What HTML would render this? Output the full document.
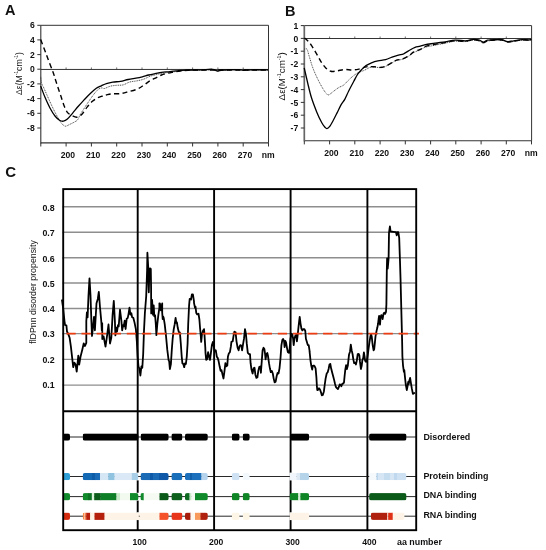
<!DOCTYPE html>
<html><head><meta charset="utf-8"><title>Figure</title>
<style>
html,body{margin:0;padding:0;background:#fff;}
svg{display:block;filter:blur(0.35px);}
text{font-family:"Liberation Sans", sans-serif;fill:#111;}
.b{font-weight:bold;}
</style></head><body>
<svg width="546" height="550" viewBox="0 0 546 550">
<rect width="546" height="550" fill="#fff"/>

<text x="5" y="15.4" class="b" font-size="14.5">A</text>
<g stroke="#333" stroke-width="1" fill="none">
<path d="M40.8 25.3H268.5V142.9"/>
<path d="M40.8 142.9H268.5" stroke="#333" stroke-width="1.1"/>
<path d="M40.8 25.3V143.4" stroke="#333" stroke-width="1.1"/>
<path d="M40.8 69.45H268.5" stroke="#333" stroke-width="1"/>
<path d="M37.3 25.3H40.8"/>
<path d="M37.3 39.9H40.8"/>
<path d="M37.3 54.6H40.8"/>
<path d="M37.3 69.2H40.8"/>
<path d="M37.3 83.9H40.8"/>
<path d="M37.3 98.6H40.8"/>
<path d="M37.3 113.3H40.8"/>
<path d="M37.3 128.0H40.8"/>
<path d="M40.8 142.9V146.5"/>
<path d="M66.1 142.9V146.5"/>
<path d="M66.1 69.45V67.45" stroke-width="0.7"/>
<path d="M91.4 142.9V146.5"/>
<path d="M91.4 69.45V67.45" stroke-width="0.7"/>
<path d="M116.7 142.9V146.5"/>
<path d="M116.7 69.45V67.45" stroke-width="0.7"/>
<path d="M142.0 142.9V146.5"/>
<path d="M142.0 69.45V67.45" stroke-width="0.7"/>
<path d="M167.3 142.9V146.5"/>
<path d="M167.3 69.45V67.45" stroke-width="0.7"/>
<path d="M192.6 142.9V146.5"/>
<path d="M192.6 69.45V67.45" stroke-width="0.7"/>
<path d="M217.9 142.9V146.5"/>
<path d="M217.9 69.45V67.45" stroke-width="0.7"/>
<path d="M243.2 142.9V146.5"/>
<path d="M243.2 69.45V67.45" stroke-width="0.7"/>
<path d="M268.5 142.9V146.5"/>
</g>
<text x="34.699999999999996" y="28.4" class="b" font-size="8.6" text-anchor="end">6</text>
<text x="34.699999999999996" y="43.0" class="b" font-size="8.6" text-anchor="end">4</text>
<text x="34.699999999999996" y="57.7" class="b" font-size="8.6" text-anchor="end">2</text>
<text x="34.699999999999996" y="72.3" class="b" font-size="8.6" text-anchor="end">0</text>
<text x="34.699999999999996" y="87.0" class="b" font-size="8.6" text-anchor="end">-2</text>
<text x="34.699999999999996" y="101.7" class="b" font-size="8.6" text-anchor="end">-4</text>
<text x="34.699999999999996" y="116.4" class="b" font-size="8.6" text-anchor="end">-6</text>
<text x="34.699999999999996" y="131.1" class="b" font-size="8.6" text-anchor="end">-8</text>
<text x="67.9" y="157.70000000000002" class="b" font-size="8.6" text-anchor="middle">200</text>
<text x="93.2" y="157.70000000000002" class="b" font-size="8.6" text-anchor="middle">210</text>
<text x="118.5" y="157.70000000000002" class="b" font-size="8.6" text-anchor="middle">220</text>
<text x="143.8" y="157.70000000000002" class="b" font-size="8.6" text-anchor="middle">230</text>
<text x="169.1" y="157.70000000000002" class="b" font-size="8.6" text-anchor="middle">240</text>
<text x="194.4" y="157.70000000000002" class="b" font-size="8.6" text-anchor="middle">250</text>
<text x="219.7" y="157.70000000000002" class="b" font-size="8.6" text-anchor="middle">260</text>
<text x="245.0" y="157.70000000000002" class="b" font-size="8.6" text-anchor="middle">270</text>
<text x="268.1" y="157.70000000000002" class="b" font-size="8.6" text-anchor="middle">nm</text>
<text transform="translate(21.7 95) rotate(-90)" font-size="8.7" fill="#6e6e6e">Δε(M<tspan dy="-3.5" font-size="4.8">-1</tspan><tspan dy="3.5">cm</tspan><tspan dy="-3.5" font-size="4.8">-1</tspan><tspan dy="3.5">)</tspan></text>
<text x="285" y="16.3" class="b" font-size="14.5">B</text>
<g stroke="#333" stroke-width="1" fill="none">
<path d="M304.3 25.6H531.6V140.8"/>
<path d="M304.3 140.8H531.6" stroke="#333" stroke-width="1.1"/>
<path d="M304.3 25.6V141.3" stroke="#666" stroke-width="1.7"/>
<path d="M304.3 38.5H531.6" stroke="#333" stroke-width="1"/>
<path d="M300.8 25.6H304.3"/>
<path d="M300.8 38.4H304.3"/>
<path d="M300.8 51.2H304.3"/>
<path d="M300.8 64.0H304.3"/>
<path d="M300.8 76.8H304.3"/>
<path d="M300.8 89.6H304.3"/>
<path d="M300.8 102.4H304.3"/>
<path d="M300.8 115.2H304.3"/>
<path d="M300.8 128.0H304.3"/>
<path d="M304.3 140.8V144.4"/>
<path d="M329.6 140.8V144.4"/>
<path d="M329.6 38.5V36.5" stroke-width="0.7"/>
<path d="M354.8 140.8V144.4"/>
<path d="M354.8 38.5V36.5" stroke-width="0.7"/>
<path d="M380.1 140.8V144.4"/>
<path d="M380.1 38.5V36.5" stroke-width="0.7"/>
<path d="M405.3 140.8V144.4"/>
<path d="M405.3 38.5V36.5" stroke-width="0.7"/>
<path d="M430.6 140.8V144.4"/>
<path d="M430.6 38.5V36.5" stroke-width="0.7"/>
<path d="M455.8 140.8V144.4"/>
<path d="M455.8 38.5V36.5" stroke-width="0.7"/>
<path d="M481.1 140.8V144.4"/>
<path d="M481.1 38.5V36.5" stroke-width="0.7"/>
<path d="M506.3 140.8V144.4"/>
<path d="M506.3 38.5V36.5" stroke-width="0.7"/>
<path d="M531.5 140.8V144.4"/>
</g>
<text x="298.2" y="28.7" class="b" font-size="8.6" text-anchor="end">1</text>
<text x="298.2" y="41.5" class="b" font-size="8.6" text-anchor="end">0</text>
<text x="298.2" y="54.3" class="b" font-size="8.6" text-anchor="end">-1</text>
<text x="298.2" y="67.1" class="b" font-size="8.6" text-anchor="end">-2</text>
<text x="298.2" y="79.9" class="b" font-size="8.6" text-anchor="end">-3</text>
<text x="298.2" y="92.7" class="b" font-size="8.6" text-anchor="end">-4</text>
<text x="298.2" y="105.5" class="b" font-size="8.6" text-anchor="end">-5</text>
<text x="298.2" y="118.3" class="b" font-size="8.6" text-anchor="end">-6</text>
<text x="298.2" y="131.1" class="b" font-size="8.6" text-anchor="end">-7</text>
<text x="331.4" y="155.60000000000002" class="b" font-size="8.6" text-anchor="middle">200</text>
<text x="356.6" y="155.60000000000002" class="b" font-size="8.6" text-anchor="middle">210</text>
<text x="381.9" y="155.60000000000002" class="b" font-size="8.6" text-anchor="middle">220</text>
<text x="407.1" y="155.60000000000002" class="b" font-size="8.6" text-anchor="middle">230</text>
<text x="432.4" y="155.60000000000002" class="b" font-size="8.6" text-anchor="middle">240</text>
<text x="457.6" y="155.60000000000002" class="b" font-size="8.6" text-anchor="middle">250</text>
<text x="482.9" y="155.60000000000002" class="b" font-size="8.6" text-anchor="middle">260</text>
<text x="508.1" y="155.60000000000002" class="b" font-size="8.6" text-anchor="middle">270</text>
<text x="531.2" y="155.60000000000002" class="b" font-size="8.6" text-anchor="middle">nm</text>
<text transform="translate(284.9 100.4) rotate(-90)" font-size="9.8" fill="#6e6e6e">Δε(M<tspan dy="-3.9" font-size="5.4">-1</tspan><tspan dy="3.9">cm</tspan><tspan dy="-3.9" font-size="5.4">-1</tspan><tspan dy="3.9">)</tspan></text>
<text x="5.2" y="177.2" class="b" font-size="15">C</text>
<path d="M62.400000000000006 206.7H416.2" stroke="#8e8e8e" stroke-width="1.4"/>
<text x="54.7" y="210.7" class="b" font-size="8.8" text-anchor="end">0.8</text>
<path d="M62.400000000000006 232.2H416.2" stroke="#8e8e8e" stroke-width="1.4"/>
<text x="54.7" y="236.2" class="b" font-size="8.8" text-anchor="end">0.7</text>
<path d="M62.400000000000006 257.8H416.2" stroke="#8e8e8e" stroke-width="1.4"/>
<text x="54.7" y="261.8" class="b" font-size="8.8" text-anchor="end">0.6</text>
<path d="M62.400000000000006 283.0H416.2" stroke="#8e8e8e" stroke-width="1.4"/>
<text x="54.7" y="287.0" class="b" font-size="8.8" text-anchor="end">0.5</text>
<path d="M62.400000000000006 308.5H416.2" stroke="#8e8e8e" stroke-width="1.4"/>
<text x="54.7" y="312.1" class="b" font-size="8.8" text-anchor="end">0.4</text>
<path d="M62.400000000000006 333.6H416.2" stroke="#8e8e8e" stroke-width="1.4"/>
<text x="54.7" y="336.6" class="b" font-size="8.8" text-anchor="end">0.3</text>
<path d="M62.400000000000006 359.4H416.2" stroke="#8e8e8e" stroke-width="1.4"/>
<text x="54.7" y="362.8" class="b" font-size="8.8" text-anchor="end">0.2</text>
<path d="M62.400000000000006 385.1H416.2" stroke="#8e8e8e" stroke-width="1.4"/>
<text x="54.7" y="388.1" class="b" font-size="8.8" text-anchor="end">0.1</text>
<text transform="translate(35.8 343.8) rotate(-90)" font-size="8.8" fill="#555">flDPnn disorder propensity</text>
<text x="139.7" y="544.8" class="b" font-size="8.6" text-anchor="middle">100</text>
<text x="216.1" y="544.8" class="b" font-size="8.6" text-anchor="middle">200</text>
<text x="292.6" y="544.8" class="b" font-size="8.6" text-anchor="middle">300</text>
<text x="369.4" y="544.8" class="b" font-size="8.6" text-anchor="middle">400</text>
<text x="397" y="544.8" class="b" font-size="8.9">aa number</text>
<text x="423.4" y="439.9" class="b" font-size="8.9">Disordered</text>
<text x="423.4" y="478.8" class="b" font-size="8.9">Protein binding</text>
<text x="423.4" y="497.6" class="b" font-size="8.9">DNA binding</text>
<text x="423.4" y="518.4" class="b" font-size="8.9">RNA binding</text>
<g fill="none" stroke-linejoin="round">
<path d="M40.7 76.8C40.9 78.0 41.3 82.0 41.8 83.8C42.3 85.6 42.5 85.1 43.7 87.7C44.9 90.3 47.1 95.5 48.8 99.2C50.5 102.9 52.2 106.7 53.9 110.1C55.6 113.5 57.7 117.3 59.1 119.7C60.5 122.1 61.2 123.1 62.3 124.2C63.4 125.3 64.3 126.1 65.5 126.2C66.7 126.3 67.8 125.3 69.3 124.6C70.8 123.9 73.1 122.8 74.5 122.0C75.9 121.2 76.8 120.9 77.7 119.7C78.7 118.5 79.0 116.6 80.2 114.6C81.4 112.6 83.1 110.0 84.7 107.6C86.3 105.1 88.1 102.4 89.8 99.9C91.5 97.4 93.5 94.6 95.0 92.8C96.5 91.0 97.6 89.8 98.8 89.0C100.0 88.2 101.0 88.0 102.0 87.9C103.0 87.8 103.1 88.8 104.5 88.5C105.9 88.2 108.3 86.7 110.3 86.2C112.3 85.7 114.6 85.5 116.7 85.3C118.8 85.1 121.0 85.4 123.1 84.9C125.2 84.4 127.2 82.8 129.5 82.1C131.8 81.4 134.8 81.3 137.2 80.8C139.5 80.3 141.5 80.0 143.6 79.2C145.7 78.5 147.9 77.1 150.0 76.3C152.1 75.5 154.3 75.1 156.4 74.6C158.5 74.1 160.5 73.5 162.8 73.1C165.1 72.7 167.5 72.7 170.0 72.4C172.5 72.1 175.3 71.5 178.0 71.2C180.7 70.9 182.3 70.6 186.0 70.4C189.7 70.2 195.7 70.3 200.0 70.2C204.3 70.1 209.0 69.6 212.0 69.8C215.0 70.0 216.0 71.1 218.0 71.2C220.0 71.3 215.7 70.4 224.0 70.2C232.3 70.0 260.7 70.0 268.0 70.0" stroke="#333" stroke-width="0.9" stroke-dasharray="1 0.8"/>
<path d="M40.7 39.6C41.7 42.3 44.8 50.3 46.8 55.7C48.8 61.1 51.4 67.7 52.9 71.8C54.4 75.9 54.8 77.7 55.7 80.5C56.6 83.3 57.5 86.0 58.4 88.8C59.3 91.5 60.3 94.2 61.2 97.0C62.1 99.8 63.1 103.2 63.9 105.3C64.7 107.4 65.2 108.2 65.8 109.4C66.4 110.6 66.7 111.6 67.6 112.6C68.5 113.6 69.7 114.4 71.3 115.2C72.9 116.0 75.2 117.4 77.0 117.2C78.8 117.0 80.5 115.7 82.2 114.0C83.9 112.3 85.6 109.0 87.3 106.9C89.0 104.8 90.7 102.7 92.4 101.2C94.1 99.7 95.8 98.8 97.5 97.9C99.2 97.0 101.3 96.5 102.7 96.0C104.1 95.5 104.5 95.3 106.0 95.0C107.5 94.7 109.1 94.1 111.5 93.9C113.9 93.7 117.7 94.0 120.5 93.6C123.3 93.2 125.4 92.5 128.2 91.7C131.0 91.0 134.6 90.2 137.2 89.1C139.8 88.0 141.5 86.7 143.6 85.3C145.7 83.9 147.9 82.1 150.0 80.8C152.1 79.5 154.5 78.6 156.4 77.6C158.3 76.6 159.8 75.7 161.5 75.0C163.2 74.3 164.9 73.9 166.7 73.5C168.4 73.1 169.8 72.8 172.0 72.4C174.2 72.0 177.3 71.3 180.0 71.0C182.7 70.7 184.7 70.5 188.0 70.3C191.3 70.1 186.7 70.1 200.0 70.1C213.3 70.0 256.7 70.0 268.0 70.0" stroke="#000" stroke-width="1.4" stroke-dasharray="5 3.4"/>
<path d="M40.7 86.0C41.4 87.9 43.4 93.6 45.0 97.3C46.6 101.0 48.4 105.1 50.1 108.2C51.8 111.3 53.4 114.0 55.0 116.0C56.6 118.0 58.1 119.3 59.5 120.2C60.9 121.1 62.1 121.4 63.4 121.2C64.7 121.0 65.9 120.4 67.4 119.1C68.9 117.8 70.7 115.4 72.5 113.3C74.3 111.2 76.3 108.6 78.3 106.3C80.3 104.0 82.6 101.5 84.7 99.2C86.8 97.0 89.2 94.6 91.1 92.8C93.0 91.0 94.6 89.5 96.3 88.3C98.0 87.1 99.7 86.6 101.4 85.8C103.1 85.0 104.5 84.2 106.4 83.6C108.3 83.0 110.5 82.5 112.8 82.1C115.1 81.7 117.9 81.8 120.5 81.4C123.1 81.0 125.6 80.0 128.2 79.5C130.8 79.0 133.6 78.6 135.9 78.2C138.2 77.8 140.2 77.4 142.3 76.9C144.4 76.4 146.6 75.5 148.7 75.0C150.8 74.5 153.0 74.1 155.1 73.7C157.2 73.3 159.0 72.8 161.5 72.4C164.0 72.1 167.2 71.9 170.0 71.6C172.8 71.3 175.3 70.8 178.0 70.6C180.7 70.3 182.3 70.2 186.0 70.1C189.7 70.0 195.6 70.0 200.0 69.9C204.4 69.8 209.4 69.1 212.4 69.3C215.4 69.5 216.0 70.9 217.8 71.0C219.6 71.1 219.3 70.2 223.0 70.0C226.7 69.8 236.7 69.7 240.0 69.8C243.3 69.9 241.3 70.4 243.0 70.4C244.7 70.4 245.8 69.9 250.0 69.8C254.2 69.7 265.0 69.8 268.0 69.8" stroke="#000" stroke-width="1.3"/>
<path d="M304.2 49.2C304.7 49.2 306.2 48.1 307.0 49.2C307.8 50.3 308.0 52.5 309.0 55.6C310.0 58.7 311.3 63.8 312.8 67.8C314.3 71.8 316.2 75.9 317.9 79.4C319.6 82.9 321.7 86.7 323.1 89.0C324.5 91.3 325.4 92.5 326.3 93.5C327.2 94.5 327.4 95.2 328.6 94.9C329.8 94.6 331.7 92.7 333.3 91.5C334.9 90.3 336.8 88.8 338.5 87.7C340.2 86.6 341.9 86.4 343.6 85.1C345.3 83.8 347.0 81.6 348.7 80.0C350.4 78.4 352.1 76.8 353.8 75.5C355.5 74.2 357.3 73.1 359.0 72.3C360.7 71.5 362.3 71.2 364.1 70.4C365.9 69.6 368.3 68.0 370.0 67.4C371.7 66.8 372.1 67.0 374.1 67.0C376.1 67.0 379.2 68.0 381.8 67.6C384.4 67.2 387.1 65.6 389.5 64.4C391.9 63.2 393.8 61.5 395.9 60.6C398.0 59.8 400.2 60.0 402.3 59.3C404.4 58.5 406.8 57.2 408.7 56.1C410.6 55.0 411.9 53.4 413.8 52.4C415.7 51.4 418.4 50.8 420.3 49.9C422.2 49.0 422.9 48.0 425.4 47.2C427.8 46.4 431.7 45.9 435.0 45.2C438.3 44.5 441.7 43.9 445.0 43.2C448.3 42.5 451.7 41.5 455.0 41.2C458.3 40.9 462.0 41.8 465.0 41.6C468.0 41.4 470.7 40.3 473.0 40.2C475.3 40.1 477.2 40.5 479.0 41.0C480.8 41.5 482.0 43.0 483.5 43.0C485.0 43.0 485.9 41.5 488.0 41.0C490.1 40.5 493.7 40.3 496.0 40.2C498.3 40.1 500.0 40.1 502.0 40.4C504.0 40.7 506.0 42.0 508.0 42.2C510.0 42.4 511.7 41.7 514.0 41.4C516.3 41.1 519.1 40.4 522.0 40.2C524.9 40.0 529.9 40.2 531.5 40.2" stroke="#333" stroke-width="0.9" stroke-dasharray="1 0.8"/>
<path d="M304.5 37.9C305.4 38.7 307.8 40.5 309.6 42.8C311.4 45.1 313.6 48.8 315.4 51.8C317.2 54.8 318.8 58.1 320.5 60.8C322.2 63.5 323.9 66.0 325.6 67.8C327.3 69.5 328.9 70.8 330.8 71.3C332.7 71.8 334.9 71.1 337.2 70.8C339.5 70.5 342.3 69.6 344.9 69.5C347.5 69.4 350.2 70.1 352.6 70.0C355.0 69.9 357.1 69.5 359.0 69.1C360.9 68.7 362.6 67.8 364.1 67.4C365.6 67.0 366.3 66.7 368.0 66.6C369.7 66.5 371.8 66.6 374.1 66.7C376.4 66.8 379.2 67.7 381.8 67.3C384.4 66.9 387.1 65.3 389.5 64.1C391.9 62.9 393.8 61.1 395.9 60.3C398.0 59.4 400.2 59.8 402.3 59.0C404.4 58.2 406.8 57.0 408.7 55.8C410.6 54.6 411.9 53.0 413.8 51.9C415.7 50.8 418.4 50.3 420.3 49.4C422.2 48.5 422.9 47.2 425.4 46.4C427.8 45.6 431.7 45.0 435.0 44.4C438.3 43.8 441.7 43.2 445.0 42.6C448.3 42.0 451.7 41.0 455.0 40.8C458.3 40.6 462.0 41.4 465.0 41.2C468.0 41.0 470.7 39.9 473.0 39.8C475.3 39.7 477.2 40.1 479.0 40.6C480.8 41.1 482.0 42.6 483.5 42.6C485.0 42.6 485.9 41.1 488.0 40.6C490.1 40.1 493.7 40.0 496.0 39.9C498.3 39.8 500.0 39.7 502.0 40.0C504.0 40.3 506.0 41.7 508.0 41.9C510.0 42.1 511.7 41.4 514.0 41.1C516.3 40.8 519.1 40.1 522.0 39.9C524.9 39.7 529.9 39.9 531.5 39.9" stroke="#000" stroke-width="1.4" stroke-dasharray="5 3.4"/>
<path d="M304.2 67.8C304.8 70.3 306.5 78.0 307.7 83.0C308.9 88.0 310.0 93.0 311.5 97.8C313.0 102.6 315.0 107.7 316.7 111.9C318.4 116.1 320.4 120.2 321.8 122.8C323.2 125.4 324.1 126.3 325.0 127.3C325.9 128.3 326.1 128.7 326.9 128.6C327.6 128.5 328.4 128.1 329.5 126.7C330.6 125.3 332.0 122.7 333.3 120.3C334.6 117.9 335.9 115.2 337.2 112.6C338.5 110.0 339.7 107.2 341.0 104.9C342.3 102.7 343.6 101.4 344.9 99.1C346.2 96.8 347.2 94.0 348.7 91.0C350.2 88.0 352.3 84.1 353.8 81.3C355.3 78.5 356.4 76.1 357.7 74.2C359.0 72.3 360.1 71.1 361.5 69.7C362.9 68.3 364.3 66.8 366.0 65.6C367.7 64.4 369.5 63.6 371.5 62.8C373.5 62.0 375.5 61.4 377.9 60.9C380.2 60.4 383.2 60.2 385.6 59.6C388.0 59.0 389.9 57.9 392.0 57.1C394.1 56.4 396.6 55.7 398.5 55.1C400.4 54.5 401.7 54.6 403.6 53.8C405.5 52.9 408.1 51.1 410.0 50.0C411.9 48.9 413.4 48.0 415.1 47.4C416.8 46.8 418.6 46.7 420.3 46.2C422.0 45.7 422.9 45.1 425.4 44.6C427.9 44.1 431.8 43.7 435.1 43.2C438.4 42.7 441.9 42.3 445.2 41.8C448.5 41.3 451.8 40.4 455.2 40.2C458.6 40.0 462.3 40.9 465.3 40.8C468.3 40.7 471.0 39.5 473.4 39.4C475.8 39.3 477.7 39.7 479.4 40.2C481.1 40.7 482.1 42.2 483.5 42.2C484.9 42.2 485.5 40.6 487.5 40.2C489.5 39.8 493.2 39.7 495.6 39.6C498.0 39.5 499.6 39.3 501.6 39.6C503.6 39.9 505.7 41.4 507.7 41.6C509.7 41.8 511.4 41.1 513.7 40.8C516.1 40.5 519.4 39.7 521.8 39.6C524.1 39.5 526.2 40.2 527.8 40.2C529.4 40.2 530.9 39.7 531.5 39.6" stroke="#000" stroke-width="1.3"/>
<path d="M61.9 299.5L63.2 308.5L64.5 321.3L65.1 325.1L66.4 325.4L67.0 331.5L68.3 334.1L69.6 337.7L70.9 346.7L72.2 358.2L73.2 367.2L74.4 362.7L75.6 364.6L76.7 371.7L77.7 362.1L78.3 355.6L79.2 364.6L80.5 356.9L82.4 349.2L83.7 343.5L85.0 346.0L86.3 342.8L86.3 321.3L86.9 312.3L87.6 317.4L88.5 295.6L89.5 278.3L90.5 295.6L91.4 321.3L92.0 336.0L93.1 326.4L94.0 316.8L94.9 330.3L96.5 303.3L97.8 298.9L98.8 291.8L100.0 307.2L101.3 321.3L101.8 330.3L102.2 323.2L102.3 339.0L103.6 336.4L105.5 346.7L106.8 337.7L108.5 324.5L110.0 343.5L111.3 337.7L111.9 327.7L112.6 314.9L113.8 300.8L114.9 321.3L115.4 335.4L116.4 327.7L117.0 331.5L118.0 325.1L118.7 326.4L120.0 309.7L121.3 320.0L122.2 330.3L123.1 325.1L123.7 326.4L124.7 320.6L125.6 329.0L126.7 318.7L127.7 318.1L128.6 313.6L129.5 307.6L130.4 314.6L131.4 313.3L132.1 317.2L133.3 317.8L134.6 322.9L135.9 329.4L136.8 340.9L137.6 356.3L138.5 366.5L139.4 368.5L140.4 375.5L141.4 366.5L142.3 367.8L143.2 353.7L144.0 330.6L144.9 312.7L145.3 307.8L146.2 296.3L147.1 270.6L147.4 252.7L148.2 266.8L148.5 282.8L148.8 292.3L149.3 274.1L149.9 268.3L150.8 269.0L151.1 288.6L151.2 313.4L152.1 300.0L153.0 314.8L153.7 305.4L154.3 316.3L155.1 315.3L155.8 324.2L156.4 335.1L157.3 324.2L158.3 315.3L159.4 307.6L159.4 303.3L159.9 303.3L160.9 310.4L162.2 303.3L162.2 312.7L162.7 319.1L163.1 316.5L163.7 317.8L164.7 324.2L166.0 335.8L167.3 349.9L168.6 360.1L169.2 361.4L169.9 369.1L170.9 364.0L171.8 349.9L172.7 338.3L173.7 329.4L174.7 324.2L175.6 317.8L176.3 322.9L176.9 322.3L177.8 328.1L178.8 331.9L179.9 332.6L180.8 343.5L181.7 356.3L182.4 363.3L183.3 364.0L184.2 367.2L185.0 363.3L185.9 364.0L186.8 356.3L187.6 343.5L188.2 324.2L188.8 311.4L189.1 305.3L189.7 298.9L191.0 299.5L191.9 294.4L192.9 294.4L194.0 301.4L194.0 302.8L195.0 307.9L195.5 306.7L196.3 313.1L197.2 314.4L198.5 313.7L199.4 319.5L200.1 328.5L200.8 336.1L201.2 341.9L201.9 334.9L202.9 331.0L204.0 329.1L204.5 334.9L205.3 347.7L205.5 352.8L206.2 359.9L207.1 359.2L208.1 352.2L209.1 356.7L210.0 359.9L210.9 352.8L211.9 345.1L212.9 341.9L213.8 346.4L214.7 351.5L215.8 350.3L216.8 356.7L217.7 357.9L218.6 361.1L219.6 366.3L220.6 370.8L221.5 370.1L222.4 374.0L223.5 378.5L224.5 370.8L225.4 363.1L226.3 366.3L227.3 365.6L227.9 356.7L228.8 353.5L229.9 352.2L230.9 346.4L231.4 341.9L232.7 341.3L233.5 336.1L234.4 331.7L235.6 332.3L236.5 341.3L237.6 347.7L238.6 350.3L239.5 346.4L240.4 345.1L241.4 345.8L242.1 350.3L242.9 345.1L244.0 338.7L245.0 329.1L245.9 333.6L246.8 343.9L247.8 352.8L249.1 354.1L250.0 354.2L250.6 363.2L251.5 369.6L252.6 373.5L253.6 368.3L254.5 367.7L255.4 374.7L256.4 377.9L257.4 377.3L258.3 370.9L259.2 367.1L260.3 366.4L260.9 372.8L261.8 360.6L262.6 350.4L263.5 347.8L264.4 349.1L265.1 354.2L265.6 359.4L266.4 354.2L267.3 352.9L267.9 355.5L269.0 363.2L269.9 368.3L270.8 372.2L271.8 370.9L272.8 373.5L273.7 378.6L274.6 382.4L275.6 381.8L276.7 376.0L277.6 372.8L278.5 373.5L279.5 368.3L280.5 358.1L281.4 345.3L282.3 340.1L283.1 338.9L284.0 340.8L284.6 347.2L285.3 340.8L286.1 342.7L287.2 349.1L287.9 352.3L289.1 352.9L289.7 347.8L290.5 338.7L291.5 333.6L292.4 334.9L293.1 338.7L293.7 345.1L294.4 338.7L295.4 335.5L296.3 334.9L296.9 341.3L297.7 334.9L298.5 327.2L299.2 320.8L299.7 316.9L300.5 323.3L301.4 328.5L302.3 330.4L303.3 329.1L304.4 329.1L305.3 331.0L305.9 338.7L306.9 341.9L307.8 345.1L308.7 345.1L309.5 350.3L309.6 351.7L310.5 360.6L311.3 365.8L312.2 369.6L312.8 365.8L313.9 365.5L314.7 366.4L315.6 368.3L316.4 377.3L316.9 386.3L317.3 390.1L317.9 390.1L319.0 388.2L320.0 389.5L320.9 392.1L321.8 395.3L322.8 395.0L323.9 391.4L324.7 385.0L325.6 378.6L326.7 373.5L327.7 372.2L328.6 369.0L329.5 364.5L330.3 363.9L331.1 368.3L332.1 372.2L333.1 376.0L334.1 379.9L335.0 383.7L335.9 386.9L336.9 388.2L337.9 389.1L338.9 386.9L339.7 384.4L340.8 385.0L341.4 386.3L342.3 383.7L343.3 383.5L344.0 382.4L344.6 376.0L345.3 369.6L346.1 365.1L346.9 369.0L347.8 365.8L348.5 359.4L349.1 354.2L350.0 351.7L350.8 344.6L351.7 350.4L352.6 354.2L353.3 359.4L354.2 363.2L355.1 362.6L355.9 364.5L356.8 360.6L357.7 354.2L358.7 354.0L359.4 355.5L360.0 361.9L360.9 369.0L361.7 365.8L362.3 360.6L363.2 358.1L363.9 352.3L364.5 356.1L365.1 360.6L366.1 361.9L367.1 359.4L367.9 354.2L368.5 349.1L369.4 342.7L370.4 336.3L371.0 334.4L371.7 336.3L372.7 345.3L373.6 350.4L374.2 349.1L374.9 342.7L375.5 336.3L376.5 331.1L377.4 327.3L378.1 323.5L378.7 318.3L379.1 315.8L379.6 318.3L380.0 324.7L380.6 317.1L381.3 315.1L381.9 315.8L382.6 319.0L383.5 313.9L384.2 312.6L385.1 313.9L386.0 311.9L386.4 304.2L386.8 271.3L387.1 258.5L387.7 268.7L388.6 258.5L389.0 232.8L389.9 226.4L390.6 231.5L393.5 231.8L396.0 232.2L396.7 235.4L397.3 232.2L398.3 232.2L399.2 237.9L399.9 258.5L400.5 277.7L402.1 340.0L402.4 356.5L403.0 365.3L403.9 371.9L404.3 370.2L404.9 376.3L405.7 384.0L406.8 390.0L407.6 386.1L408.2 381.8L408.7 384.0L409.3 380.7L410.1 377.9L410.9 382.9L411.8 388.4L412.9 393.9L414.0 393.3L415.1 392.8" stroke="#000" stroke-width="1.8" stroke-linejoin="round"/>
<path d="M66.4 333.6H419" stroke="#ee3d12" stroke-width="1.9" stroke-dasharray="9.3 5.8"/>
</g>
<g stroke="#000" fill="none" stroke-width="1.9">
<path d="M63.2 411.2H416.2"/>
<path d="M137.7 189.1V530.2"/>
<path d="M214.1 189.1V530.2"/>
<path d="M290.6 189.1V530.2"/>
<path d="M367.4 189.1V530.2"/>
</g>
<rect x="136.4" y="472.6" width="4.3" height="7.8" fill="#fff"/>
<rect x="136.4" y="492.8" width="4.3" height="7.8" fill="#fff"/>
<rect x="136.4" y="512.3" width="4.3" height="7.8" fill="#fff"/>
<rect x="289.4" y="472.6" width="2.6" height="7.8" fill="#fff"/>
<rect x="289.4" y="512.3" width="2.6" height="7.8" fill="#fff"/>
<path d="M63.2 437.0H416.2" stroke="#111" stroke-width="0.9"/>
<path d="M63.2 476.5H416.2" stroke="#111" stroke-width="0.9"/>
<path d="M63.2 496.6H416.2" stroke="#111" stroke-width="0.9"/>
<path d="M63.2 516.2H416.2" stroke="#111" stroke-width="0.9"/>
<clipPath id="c1"><rect x="62.7" y="433.4" width="7.3" height="7.3" rx="2" ry="2"/></clipPath>
<g clip-path="url(#c1)">
<rect x="62.7" y="433.4" width="7.6" height="7.3" fill="#000"/>
</g>
<clipPath id="c2"><rect x="82.7" y="433.4" width="55.7" height="7.3" rx="2" ry="2"/></clipPath>
<g clip-path="url(#c2)">
<rect x="82.7" y="433.4" width="56.0" height="7.3" fill="#000"/>
</g>
<clipPath id="c3"><rect x="140.6" y="433.4" width="28.0" height="7.3" rx="2" ry="2"/></clipPath>
<g clip-path="url(#c3)">
<rect x="140.6" y="433.4" width="28.3" height="7.3" fill="#000"/>
</g>
<clipPath id="c4"><rect x="171.4" y="433.4" width="10.9" height="7.3" rx="2" ry="2"/></clipPath>
<g clip-path="url(#c4)">
<rect x="171.4" y="433.4" width="11.2" height="7.3" fill="#000"/>
</g>
<clipPath id="c5"><rect x="185.0" y="433.4" width="22.7" height="7.3" rx="2" ry="2"/></clipPath>
<g clip-path="url(#c5)">
<rect x="185.0" y="433.4" width="23.0" height="7.3" fill="#000"/>
</g>
<clipPath id="c6"><rect x="231.8" y="433.4" width="7.7" height="7.3" rx="2" ry="2"/></clipPath>
<g clip-path="url(#c6)">
<rect x="231.8" y="433.4" width="8.0" height="7.3" fill="#000"/>
</g>
<clipPath id="c7"><rect x="242.7" y="433.4" width="6.9" height="7.3" rx="2" ry="2"/></clipPath>
<g clip-path="url(#c7)">
<rect x="242.7" y="433.4" width="7.2" height="7.3" fill="#000"/>
</g>
<clipPath id="c8"><rect x="290.0" y="433.4" width="19.1" height="7.3" rx="2" ry="2"/></clipPath>
<g clip-path="url(#c8)">
<rect x="290.0" y="433.4" width="19.4" height="7.3" fill="#000"/>
</g>
<clipPath id="c9"><rect x="369.1" y="433.4" width="37.3" height="7.3" rx="2" ry="2"/></clipPath>
<g clip-path="url(#c9)">
<rect x="369.1" y="433.4" width="37.6" height="7.3" fill="#000"/>
</g>
<clipPath id="c10"><rect x="62.7" y="472.9" width="7.3" height="7.3" rx="2" ry="2"/></clipPath>
<g clip-path="url(#c10)">
<rect x="62.7" y="472.9" width="7.6" height="7.3" fill="#2e9fd6"/>
</g>
<clipPath id="c11"><rect x="82.7" y="472.9" width="55.6" height="7.3" rx="2" ry="2"/></clipPath>
<g clip-path="url(#c11)">
<rect x="82.7" y="472.9" width="9.6" height="7.3" fill="#1469b5"/>
<rect x="92.0" y="472.9" width="3.3" height="7.3" fill="#0f5ca8"/>
<rect x="95.0" y="472.9" width="5.3" height="7.3" fill="#1a6cb8"/>
<rect x="100.0" y="472.9" width="8.5" height="7.3" fill="#d5e6f5"/>
<rect x="108.2" y="472.9" width="6.6" height="7.3" fill="#8fc3e0"/>
<rect x="114.5" y="472.9" width="17.6" height="7.3" fill="#dbe9f6"/>
<rect x="131.8" y="472.9" width="6.8" height="7.3" fill="#a9cfe8"/>
</g>
<clipPath id="c12"><rect x="140.5" y="472.9" width="28.1" height="7.3" rx="2" ry="2"/></clipPath>
<g clip-path="url(#c12)">
<rect x="140.5" y="472.9" width="9.8" height="7.3" fill="#1a6ab5"/>
<rect x="150.0" y="472.9" width="3.3" height="7.3" fill="#0f5aa8"/>
<rect x="153.0" y="472.9" width="6.3" height="7.3" fill="#1a6ab5"/>
<rect x="159.0" y="472.9" width="9.9" height="7.3" fill="#1058a8"/>
</g>
<clipPath id="c13"><rect x="171.4" y="472.9" width="10.9" height="7.3" rx="2" ry="2"/></clipPath>
<g clip-path="url(#c13)">
<rect x="171.4" y="472.9" width="11.2" height="7.3" fill="#1a6fbb"/>
</g>
<clipPath id="c14"><rect x="185.0" y="472.9" width="22.7" height="7.3" rx="2" ry="2"/></clipPath>
<g clip-path="url(#c14)">
<rect x="185.0" y="472.9" width="5.3" height="7.3" fill="#1c70bc"/>
<rect x="190.0" y="472.9" width="2.3" height="7.3" fill="#125faa"/>
<rect x="192.0" y="472.9" width="9.7" height="7.3" fill="#1c70bc"/>
<rect x="201.4" y="472.9" width="6.6" height="7.3" fill="#b5d3ec"/>
</g>
<clipPath id="c15"><rect x="231.8" y="472.9" width="7.7" height="7.3" rx="2" ry="2"/></clipPath>
<g clip-path="url(#c15)">
<rect x="231.8" y="472.9" width="8.0" height="7.3" fill="#cfe2f3"/>
</g>
<clipPath id="c16"><rect x="242.7" y="472.9" width="6.9" height="7.3" rx="2" ry="2"/></clipPath>
<g clip-path="url(#c16)">
<rect x="242.7" y="472.9" width="7.2" height="7.3" fill="#f3f8fc"/>
</g>
<clipPath id="c17"><rect x="289.6" y="472.9" width="19.5" height="7.3" rx="2" ry="2"/></clipPath>
<g clip-path="url(#c17)">
<rect x="289.6" y="472.9" width="7.1" height="7.3" fill="#f0f6fb"/>
<rect x="296.4" y="472.9" width="3.9" height="7.3" fill="#dce9f5"/>
<rect x="300.0" y="472.9" width="9.4" height="7.3" fill="#b5d4ea"/>
</g>
<clipPath id="c18"><rect x="369.1" y="472.9" width="37.3" height="7.3" rx="2" ry="2"/></clipPath>
<g clip-path="url(#c18)">
<rect x="369.1" y="472.9" width="7.6" height="7.3" fill="#f5f9fc"/>
<rect x="376.4" y="472.9" width="1.9" height="7.3" fill="#bdd7ee"/>
<rect x="378.0" y="472.9" width="6.3" height="7.3" fill="#d6e6f4"/>
<rect x="384.0" y="472.9" width="6.3" height="7.3" fill="#c6dcef"/>
<rect x="390.0" y="472.9" width="4.3" height="7.3" fill="#d6e6f4"/>
<rect x="394.0" y="472.9" width="3.3" height="7.3" fill="#c0d9ee"/>
<rect x="397.0" y="472.9" width="9.7" height="7.3" fill="#cfe2f3"/>
</g>
<clipPath id="c19"><rect x="62.7" y="493.1" width="7.3" height="7.3" rx="2" ry="2"/></clipPath>
<g clip-path="url(#c19)">
<rect x="62.7" y="493.1" width="7.6" height="7.3" fill="#108a2a"/>
</g>
<clipPath id="c20"><rect x="82.7" y="493.1" width="55.7" height="7.3" rx="2" ry="2"/></clipPath>
<g clip-path="url(#c20)">
<rect x="82.7" y="493.1" width="5.6" height="7.3" fill="#108a2a"/>
<rect x="88.0" y="493.1" width="4.1" height="7.3" fill="#0d7423"/>
<rect x="91.8" y="493.1" width="2.7" height="7.3" fill="#d9f2d9"/>
<rect x="94.2" y="493.1" width="6.6" height="7.3" fill="#0c5c1a"/>
<rect x="100.5" y="493.1" width="16.2" height="7.3" fill="#0f7f27"/>
<rect x="116.4" y="493.1" width="3.9" height="7.3" fill="#c8eac8"/>
<rect x="120.0" y="493.1" width="10.3" height="7.3" fill="#f2faf0"/>
<rect x="130.0" y="493.1" width="8.7" height="7.3" fill="#108a2a"/>
</g>
<clipPath id="c21"><rect x="140.4" y="493.1" width="28.2" height="7.3" rx="2" ry="2"/></clipPath>
<g clip-path="url(#c21)">
<rect x="140.4" y="493.1" width="3.6" height="7.3" fill="#108a2a"/>
<rect x="143.7" y="493.1" width="16.1" height="7.3" fill="#f5fbf3"/>
<rect x="159.5" y="493.1" width="9.4" height="7.3" fill="#0b5a1a"/>
</g>
<clipPath id="c22"><rect x="171.4" y="493.1" width="10.9" height="7.3" rx="2" ry="2"/></clipPath>
<g clip-path="url(#c22)">
<rect x="171.4" y="493.1" width="11.2" height="7.3" fill="#0d611c"/>
</g>
<clipPath id="c23"><rect x="185.0" y="493.1" width="22.7" height="7.3" rx="2" ry="2"/></clipPath>
<g clip-path="url(#c23)">
<rect x="185.0" y="493.1" width="4.8" height="7.3" fill="#0e6a20"/>
<rect x="189.5" y="493.1" width="2.2" height="7.3" fill="#c8eac8"/>
<rect x="191.4" y="493.1" width="3.9" height="7.3" fill="#f5fbf3"/>
<rect x="195.0" y="493.1" width="13.0" height="7.3" fill="#108a2a"/>
</g>
<clipPath id="c24"><rect x="231.8" y="493.1" width="7.7" height="7.3" rx="2" ry="2"/></clipPath>
<g clip-path="url(#c24)">
<rect x="231.8" y="493.1" width="8.0" height="7.3" fill="#0f8526"/>
</g>
<clipPath id="c25"><rect x="242.7" y="493.1" width="6.9" height="7.3" rx="2" ry="2"/></clipPath>
<g clip-path="url(#c25)">
<rect x="242.7" y="493.1" width="7.2" height="7.3" fill="#0f8526"/>
</g>
<clipPath id="c26"><rect x="289.6" y="493.1" width="19.5" height="7.3" rx="2" ry="2"/></clipPath>
<g clip-path="url(#c26)">
<rect x="289.6" y="493.1" width="8.9" height="7.3" fill="#0f8526"/>
<rect x="298.2" y="493.1" width="2.5" height="7.3" fill="#d5efd5"/>
<rect x="300.4" y="493.1" width="9.0" height="7.3" fill="#0f8526"/>
</g>
<clipPath id="c27"><rect x="369.1" y="493.1" width="37.3" height="7.3" rx="2" ry="2"/></clipPath>
<g clip-path="url(#c27)">
<rect x="369.1" y="493.1" width="37.6" height="7.3" fill="#0b5a1a"/>
</g>
<clipPath id="c28"><rect x="62.7" y="512.6" width="7.3" height="7.3" rx="2" ry="2"/></clipPath>
<g clip-path="url(#c28)">
<rect x="62.7" y="512.6" width="7.6" height="7.3" fill="#d42c10"/>
</g>
<clipPath id="c29"><rect x="82.7" y="512.6" width="85.9" height="7.3" rx="2" ry="2"/></clipPath>
<g clip-path="url(#c29)">
<rect x="82.7" y="512.6" width="2.1" height="7.3" fill="#f58a4a"/>
<rect x="84.5" y="512.6" width="1.0" height="7.3" fill="#fde3cf"/>
<rect x="85.2" y="512.6" width="1.4" height="7.3" fill="#ee6a34"/>
<rect x="86.3" y="512.6" width="4.1" height="7.3" fill="#b81f0c"/>
<rect x="90.1" y="512.6" width="4.7" height="7.3" fill="#fff3e6"/>
<rect x="94.5" y="512.6" width="10.3" height="7.3" fill="#b5200d"/>
<rect x="104.5" y="512.6" width="55.3" height="7.3" fill="#fdf3e6"/>
<rect x="159.5" y="512.6" width="9.4" height="7.3" fill="#f4532c"/>
</g>
<clipPath id="c30"><rect x="171.4" y="512.6" width="10.9" height="7.3" rx="2" ry="2"/></clipPath>
<g clip-path="url(#c30)">
<rect x="171.4" y="512.6" width="11.2" height="7.3" fill="#e8341a"/>
</g>
<clipPath id="c31"><rect x="185.0" y="512.6" width="22.7" height="7.3" rx="2" ry="2"/></clipPath>
<g clip-path="url(#c31)">
<rect x="185.0" y="512.6" width="5.8" height="7.3" fill="#a81c0c"/>
<rect x="190.5" y="512.6" width="4.8" height="7.3" fill="#fdf7ee"/>
<rect x="195.0" y="512.6" width="5.8" height="7.3" fill="#f89a5c"/>
<rect x="200.5" y="512.6" width="7.5" height="7.3" fill="#b0200e"/>
</g>
<clipPath id="c32"><rect x="231.8" y="512.6" width="7.7" height="7.3" rx="2" ry="2"/></clipPath>
<g clip-path="url(#c32)">
<rect x="231.8" y="512.6" width="8.0" height="7.3" fill="#fdf5e6"/>
</g>
<clipPath id="c33"><rect x="242.7" y="512.6" width="6.9" height="7.3" rx="2" ry="2"/></clipPath>
<g clip-path="url(#c33)">
<rect x="242.7" y="512.6" width="7.2" height="7.3" fill="#fdf5e6"/>
</g>
<clipPath id="c34"><rect x="289.6" y="512.6" width="19.5" height="7.3" rx="2" ry="2"/></clipPath>
<g clip-path="url(#c34)">
<rect x="289.6" y="512.6" width="19.8" height="7.3" fill="#fdf3e6"/>
</g>
<clipPath id="c35"><rect x="370.9" y="512.6" width="33.6" height="7.3" rx="2" ry="2"/></clipPath>
<g clip-path="url(#c35)">
<rect x="370.9" y="512.6" width="16.7" height="7.3" fill="#b0200e"/>
<rect x="387.3" y="512.6" width="1.2" height="7.3" fill="#fde8dc"/>
<rect x="388.2" y="512.6" width="4.8" height="7.3" fill="#e03015"/>
<rect x="392.7" y="512.6" width="12.1" height="7.3" fill="#fdf3e6"/>
</g>
<rect x="138.8" y="515.7" width="0.9" height="1" fill="#333"/>
<g stroke="#000" fill="none" stroke-width="1.9">
<rect x="63.2" y="189.1" width="353.0" height="341.1"/>
</g>
</svg></body></html>
